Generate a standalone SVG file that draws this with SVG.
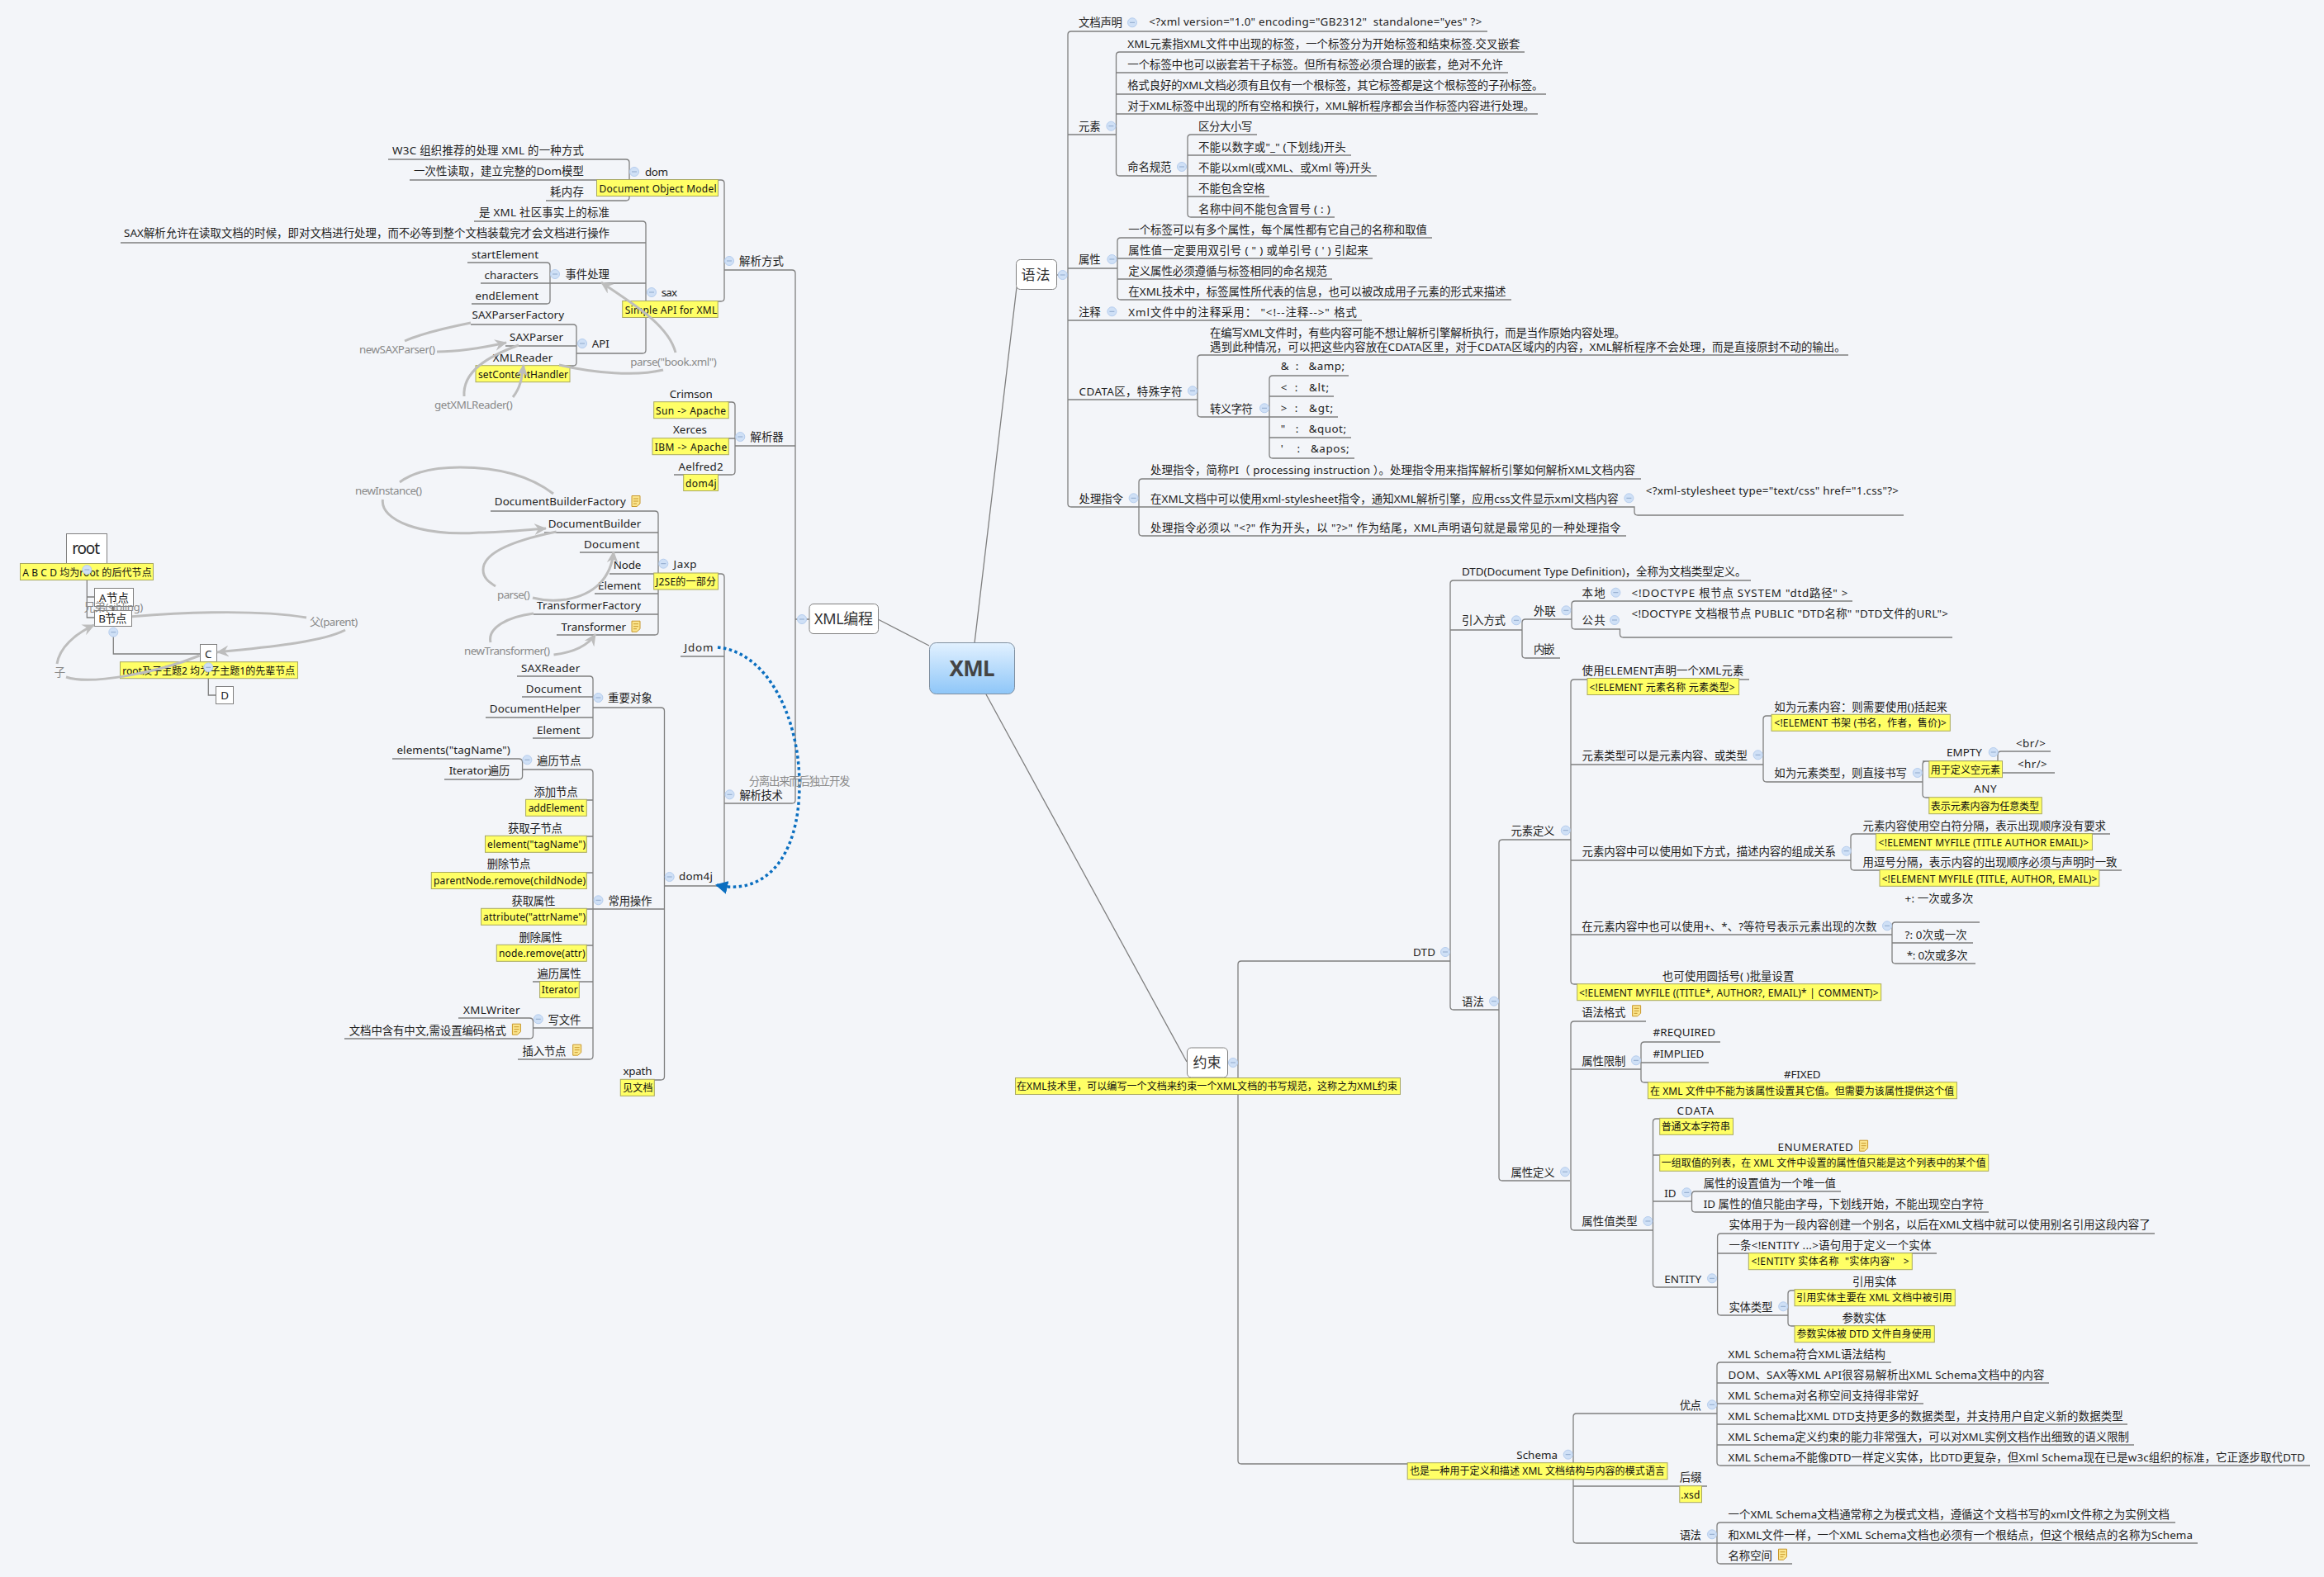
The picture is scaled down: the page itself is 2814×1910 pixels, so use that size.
<svg xmlns="http://www.w3.org/2000/svg" xmlns:xlink="http://www.w3.org/1999/xlink" width="2814" height="1910" viewBox="0 0 2814 1910">
<style>
text{font-family:"Noto Sans","Noto Sans CJK SC",sans-serif;font-size:13.4px;fill:#222;white-space:pre}
rect.n + text{font-size:12px;fill:#111}
.l{fill:#8a8a8a}
.b{font-size:17px;fill:#333}
.c path{fill:none;stroke:#7f7f7f;stroke-width:1.3}
.n{fill:#ffff66;stroke:#a8a860;stroke-width:1}
.w{fill:#fff;stroke:#808080;stroke-width:1}
.r path{fill:none;stroke:#bdbdbd;stroke-width:3}
.tg{fill:#cfe0f6;stroke:#b5cdee;stroke-width:1}
</style>
<defs>
<linearGradient id="gx" x1="0" y1="0" x2="0" y2="1"><stop offset="0" stop-color="#e2f1ff"/><stop offset="1" stop-color="#8ec6f8"/></linearGradient>
<marker id="ga" markerUnits="userSpaceOnUse" markerWidth="16" markerHeight="14" refX="14" refY="7" orient="auto"><path d="M0,0 L15,7 L0,14 L5,7 z" fill="#bdbdbd"/></marker>
<marker id="ba" markerUnits="userSpaceOnUse" markerWidth="16" markerHeight="16" refX="13" refY="8" orient="auto"><path d="M0,0 L15,8 L0,16 z" fill="#0b6fc0"/></marker>
<g id="tg"><circle class="tg" r="5.5"/><path d="M-3,0H3" stroke="#8fa9cc" stroke-width="1"/></g>
<g id="ic"><path d="M-5,-6.5H5V3L1,6.5H-5z" fill="#fbe58e" stroke="#c8982a"/><path d="M-3,-3H3M-3,0H3M-3,3H1" stroke="#c8982a" stroke-width="1"/></g>
</defs>
<rect width="2814" height="1910" fill="#f3f5f9"/>
<g id="connectors" class="c">
<path d="M1063,750L1125,782M1180,779L1231,348M1194,841L1437,1286M980,750H963"/>
<path d="M877,327H959Q963,327 963,331V969Q963,973 959,973H877M890,540H963"/>
<path d="M762,218H873Q877,218 877,222V361Q877,365 873,365H782"/>
<path d="M470,193H758Q762,193 762,197V239Q762,243 758,243H661M496,218H762"/>
<path d="M574,268H778Q782,268 782,272V424Q782,428 778,428H698M146,294H782M666,343H782"/>
<path d="M566,318H662Q666,318 666,322V364Q666,368 662,368H571M582,343H666"/>
<path d="M570,393H694Q698,393 698,397V439Q698,443 694,443H676M612,419H698"/>
<path d="M880,487H886Q890,487 890,491V571Q890,575 886,575H816M882,531H890"/>
<path d="M797,695H873Q877,695 877,699V1069Q877,1073 873,1073H804.5M824,795H877"/>
<path d="M594,619H793Q797,619 797,623V765Q797,769 793,769H674M659,645H797M702,669H797M738,695H797M720,719H797M646,744H797"/>
<path d="M718,857H800Q804.5,857 804.5,861V1304Q804.5,1308 800,1308H790M718,1101H804.5"/>
<path d="M626,819H714Q718,819 718,823V890Q718,894 714,894H645M632,844H718M588,869H718"/>
<path d="M632.6,932H714Q718,932 718,936V1279Q718,1283 714,1283H627M710,969H718M710,1013H718M710,1057H718M710,1101H718M710,1145H718M645,1189H718M645.5,1245H718"/>
<path d="M475,919H628Q632.6,919 632.6,923V940Q632.6,944 628,944H538"/>
<path d="M555,1233H641Q645.5,1233 645.5,1237V1254Q645.5,1258 641,1258H417"/>
<path d="M1801,38H1297Q1293,38 1293,42V610Q1293,614 1297,614H1379M1280,333H1293M1293,163H1351.5M1293,325H1353M1293,388H1649M1293,484H1450"/>
<path d="M1846,63H1355.5Q1351.5,63 1351.5,67V209Q1351.5,213 1355.5,213H1438M1351.5,88H1826M1351.5,114H1872M1351.5,138H1862"/>
<path d="M1522,163H1442Q1438,163 1438,167V259Q1438,263 1442,263H1616M1438,188H1636M1438,213H1667M1438,238H1537"/>
<path d="M1734,288H1357Q1353,288 1353,292V359Q1353,363 1357,363H1830M1353,313H1662M1353,338H1613"/>
<path d="M2238,430H1454Q1450,430 1450,434V501Q1450,505 1454,505H1537"/>
<path d="M1633,455H1541Q1537,455 1537,459V551Q1537,555 1541,555H1640M1537,480H1615M1537,505H1620M1537,530H1636"/>
<path d="M1987,580H1383Q1379,580 1379,584V645Q1379,649 1383,649H1969M1379,614H1979V620Q1979,624 1983,624H2305"/>
<path d="M1756,1164H1503Q1499,1164 1499,1168V1769Q1499,1773 1503,1773H1905M1487,1287H1499"/>
<path d="M2120,703H1760Q1756,703 1756,707V1219Q1756,1223 1760,1223H1815M1756,763H1843"/>
<path d="M1903,750H1847Q1843,750 1843,754V793Q1843,797 1847,797H1889"/>
<path d="M2243,728H1907Q1903,728 1903,732V758Q1903,762 1907,762H1961.5V768Q1961.5,772 1965.5,772H2364"/>
<path d="M1902,1017H1819Q1815,1017 1815,1021V1426Q1815,1430 1819,1430H1901"/>
<path d="M2118,823H1906Q1902,823 1902,827V1188Q1902,1192 1906,1192H1910M1902,926H2135M1902,1042H2241M1902,1132H2291"/>
<path d="M2145,867H2139Q2135,867 2135,871V943Q2135,947 2139,947H2328"/>
<path d="M2336,922H2332Q2328,922 2328,926V962Q2328,966 2332,966H2336M2328,922H2419"/>
<path d="M2483,910H2423Q2419,910 2419,914V932Q2419,936 2423,936H2488"/>
<path d="M2555,1010H2245Q2241,1010 2241,1014V1050Q2241,1054 2245,1054H2569"/>
<path d="M2397,1117H2295Q2291,1117 2291,1121V1163Q2291,1167 2295,1167H2392M2291,1142H2389"/>
<path d="M1993,1237H1906Q1902,1237 1902,1241V1486Q1902,1490 1906,1490H2001.5M1902,1295H1987"/>
<path d="M2083,1262H1991Q1987,1262 1987,1266V1307Q1987,1311 1991,1311H1996M1987,1287H2069"/>
<path d="M2010,1355H2005.5Q2001.5,1355 2001.5,1359V1555Q2001.5,1559 2005.5,1559H2079.6M2001.5,1399H2010M2001.5,1455H2048.5"/>
<path d="M2229,1443H2052.5Q2048.5,1443 2048.5,1447V1464Q2048.5,1468 2052.5,1468H2408"/>
<path d="M2609,1494H2083.6Q2079.6,1494 2079.6,1498V1589Q2079.6,1593 2083.6,1593H2165M2079.6,1518H2345"/>
<path d="M2173,1563H2169Q2165,1563 2165,1567V1602Q2165,1606 2169,1606H2173"/>
<path d="M2079,1712H1909Q1905,1712 1905,1716V1865Q1905,1869 1909,1869H2079M1905,1800H2067"/>
<path d="M2290,1650H2083Q2079,1650 2079,1654V1771Q2079,1775 2083,1775H2797M2079,1675H2481M2079,1700H2329M2079,1725H2576M2079,1750H2584"/>
<path d="M2634,1844H2083Q2079,1844 2079,1848V1890Q2079,1894 2083,1894H2170M2079,1869H2661"/>
<path d="M105.3,696V748H114M105.3,723H114M137.3,771V792H242M252.3,814V842H261"/>
</g>
<g id="xml"><rect x="1125.5" y="778.5" width="103" height="62" rx="8" fill="url(#gx)" stroke="#7f8fa0"/><text x="1149.5" y="819" textLength="55" style="font-size:26px;font-weight:700;fill:#444">XML</text></g>
<g id="xmlprog"><rect class="w" x="980" y="731.5" width="83.5" height="36" rx="5"/><text class="b" x="986" y="756" textLength="71" style="font-size:18px">XML编程</text><use href="#tg" x="971" y="750"/></g>
<g id="syntax"><rect class="w" x="1230.5" y="314.5" width="49" height="36" rx="5"/><text class="b" x="1236.5" y="338.5" textLength="35">语法</text><use href="#tg" x="1286.7" y="333"/></g>
<g id="constraint"><rect class="w" x="1437.5" y="1269" width="49" height="36" rx="5"/><text class="b" x="1444.5" y="1293" textLength="34">约束</text><use href="#tg" x="1493" y="1287"/><rect class="n" x="1229.5" y="1305.5" width="466" height="20"/><text x="1231" y="1320" textLength="461">在XML技术里，可以编写一个文档来约束一个XML文档的书写规范，这称之为XML约束</text></g>
<g id="n1"><text x="475" y="187" textLength="232">W3C 组织推荐的处理 XML 的一种方式</text></g>
<g id="n2"><text x="501" y="212" textLength="206">一次性读取，建立完整的Dom模型</text></g>
<g id="n3"><text x="666" y="237" textLength="41">耗内存</text></g>
<g id="n4"><use href="#tg" x="768" y="208"/><text x="781" y="213" textLength="28">dom</text><rect class="n" x="722.5" y="217.5" width="147" height="20"/><text x="725.5" y="232.5" textLength="142">Document Object Model</text></g>
<g id="n5"><text x="580" y="262" textLength="158">是 XML 社区事实上的标准</text></g>
<g id="n6"><text x="150" y="287" textLength="588">SAX解析允许在读取文档的时候，即对文档进行处理，而不必等到整个文档装载完才会文档进行操作</text></g>
<g id="n7"><text x="571" y="313" textLength="81">startElement</text></g>
<g id="n8"><text x="586.5" y="338" textLength="65.5">characters</text></g>
<g id="n9"><text x="575.5" y="363" textLength="76.5">endElement</text></g>
<g id="n10"><use href="#tg" x="672" y="332"/><text x="684.5" y="337" textLength="53.5">事件处理</text></g>
<g id="n11"><text x="571.5" y="386" textLength="111.5">SAXParserFactory</text></g>
<g id="n12"><text x="617" y="413" textLength="65">SAXParser</text></g>
<g id="n13"><text x="596.7" y="438" textLength="72.5">XMLReader</text><rect class="n" x="576" y="442.7" width="114" height="20"/><text x="579" y="458" textLength="109">setContentHandler</text></g>
<g id="n14"><use href="#tg" x="705" y="416"/><text x="716.7" y="421" textLength="21">API</text></g>
<g id="n15"><use href="#tg" x="789" y="354"/><text x="800.7" y="359" textLength="19.5">sax</text><rect class="n" x="753.7" y="364.5" width="115.5" height="20"/><text x="756.7" y="380" textLength="111.5">Simple API for XML</text></g>
<g id="n16"><use href="#tg" x="883" y="316"/><text x="895" y="321" textLength="54">解析方式</text></g>
<g id="n17"><text x="810.7" y="482" textLength="52">Crimson</text><rect class="n" x="791.7" y="486.7" width="90.5" height="20"/><text x="794" y="502" textLength="85">Sun -&gt; Apache</text></g>
<g id="n18"><text x="815" y="525" textLength="41">Xerces</text><rect class="n" x="790" y="530.7" width="92.3" height="20"/><text x="792.7" y="546" textLength="87.5">IBM -&gt; Apache</text></g>
<g id="n19"><text x="821.6" y="569.5" textLength="54">Aelfred2</text><rect class="n" x="827.7" y="574.5" width="41.8" height="20"/><text x="830" y="590" textLength="37.6">dom4j</text></g>
<g id="n20"><use href="#tg" x="896.3" y="529"/><text x="908.6" y="534" textLength="40">解析器</text></g>
<g id="n21"><text x="598.8" y="612" textLength="159">DocumentBuilderFactory</text><use href="#ic" x="770" y="607"/></g>
<g id="n22"><text x="663.7" y="638.5" textLength="112.6">DocumentBuilder</text></g>
<g id="n23"><text x="707" y="663.5" textLength="67.6">Document</text></g>
<g id="n24"><text x="742.7" y="688.5" textLength="33.6">Node</text></g>
<g id="n25"><text x="724" y="713.5" textLength="52">Element</text></g>
<g id="n26"><text x="650" y="737.5" textLength="126">TransformerFactory</text></g>
<g id="n27"><text x="679.6" y="764" textLength="78.4">Transformer</text><use href="#ic" x="770" y="758.7"/></g>
<g id="n28"><use href="#tg" x="803.3" y="682.7"/><text x="815.5" y="687.5" textLength="28">Jaxp</text><rect class="n" x="791.7" y="694" width="77.8" height="20"/><text x="794" y="709" textLength="73">J2SE的一部分</text></g>
<g id="n29"><text x="828.5" y="788.5" textLength="35">Jdom</text></g>
<g id="n30"><use href="#tg" x="883.5" y="962.3"/><text x="895.5" y="967.5" textLength="52.5">解析技术</text></g>
<g id="n31"><use href="#tg" x="810.7" y="1062"/><text x="822" y="1066" textLength="41">dom4j</text></g>
<g id="n32"><text x="631" y="814" textLength="71.3">SAXReader</text></g>
<g id="n33"><text x="636.8" y="838.5" textLength="67.2">Document</text></g>
<g id="n34"><text x="592.8" y="862.5" textLength="110">DocumentHelper</text></g>
<g id="n35"><text x="650" y="889" textLength="52.3">Element</text></g>
<g id="n36"><use href="#tg" x="724.4" y="845"/><text x="736" y="850" textLength="54">重要对象</text></g>
<g id="n37"><text x="480.4" y="912.5" textLength="137.5">elements("tagName")</text></g>
<g id="n38"><text x="543.7" y="938" textLength="73.7">Iterator遍历</text></g>
<g id="n39"><use href="#tg" x="638.4" y="920.3"/><text x="650" y="925.5" textLength="53.6">遍历节点</text></g>
<g id="n40"><text x="646.4" y="963.5" textLength="53.2">添加节点</text><rect class="n" x="636.6" y="968.3" width="73.7" height="20"/><text x="639.7" y="983" textLength="67.3">addElement</text></g>
<g id="n41"><text x="615" y="1007.5" textLength="66">获取子节点</text><rect class="n" x="587.5" y="1012.3" width="122.8" height="20"/><text x="590" y="1027" textLength="119">element("tagName")</text></g>
<g id="n42"><text x="589.7" y="1051" textLength="52.7">删除节点</text><rect class="n" x="522.3" y="1056.5" width="188" height="20"/><text x="525" y="1071" textLength="184">parentNode.remove(childNode)</text></g>
<g id="n43"><text x="619.6" y="1095.5" textLength="52.7">获取属性</text><rect class="n" x="582.6" y="1100.3" width="127.7" height="20"/><text x="585" y="1115" textLength="124">attribute("attrName")</text></g>
<g id="n44"><text x="628.6" y="1139.5" textLength="52.4">删除属性</text><rect class="n" x="601.3" y="1144.3" width="109" height="20"/><text x="604" y="1159" textLength="104.5">node.remove(attr)</text></g>
<g id="n45"><text x="650.4" y="1183.5" textLength="53.2">遍历属性</text><rect class="n" x="653.6" y="1188.5" width="47.7" height="20"/><text x="655.8" y="1203" textLength="43.8">Iterator</text></g>
<g id="n46"><text x="561" y="1228" textLength="68.5">XMLWriter</text></g>
<g id="n47"><text x="422.8" y="1252.5" textLength="190">文档中含有中文,需设置编码格式</text><use href="#ic" x="625.4" y="1246.7"/></g>
<g id="n48"><use href="#tg" x="651.8" y="1234.3"/><text x="663.4" y="1239.5" textLength="40">写文件</text></g>
<g id="n49"><text x="632.6" y="1277.5" textLength="52.7">插入节点</text><use href="#ic" x="698.7" y="1271.7"/></g>
<g id="n50"><use href="#tg" x="724.5" y="1090.3"/><text x="736.6" y="1095.5" textLength="52.7">常用操作</text></g>
<g id="n51"><text x="754.5" y="1302" textLength="35">xpath</text><rect class="n" x="751.3" y="1307.3" width="41" height="20"/><text x="754" y="1322" textLength="36.6">见文档</text></g>
<g id="root"><rect class="w" x="80.5" y="646.5" width="49" height="36"/><text x="87.3" y="671" textLength="33.7" style="font-size:19px">root</text><rect class="n" x="24.5" y="682.5" width="161" height="20"/><text x="27.3" y="697.5" textLength="156.4">A B C D 均为root 的后代节点</text><use href="#tg" x="105.3" y="690"/></g>
<g id="nodeA"><rect class="w" x="114.5" y="712.5" width="47" height="22"/><text x="120" y="728.5" textLength="36">A节点</text></g>
<g id="nodeB"><rect class="w" x="114.5" y="739.5" width="45" height="19"/><text x="119.3" y="753.5" textLength="34">B节点</text><use href="#tg" x="137.3" y="765.7"/></g>
<g id="nodeC"><rect class="w" x="242.5" y="780.5" width="20" height="21"/><text x="248" y="796.5" textLength="8.7">C</text><rect class="n" x="145.5" y="801.7" width="215" height="20"/><text x="148.3" y="817" textLength="209">root及子主题2 均为子主题1的先辈节点</text><use href="#tg" x="252.3" y="808.3"/></g>
<g id="nodeD"><rect class="w" x="261.5" y="831.5" width="21" height="21"/><text x="267.3" y="847" textLength="8.7">D</text></g>
<g id="n60"><text x="1306" y="32" textLength="53">文档声明</text><use href="#tg" x="1371" y="27.3"/></g>
<g id="n61"><text x="1391.3" y="31" textLength="403">&lt;?xml version="1.0" encoding="GB2312"  standalone="yes" ?&gt;</text></g>
<g id="n62"><text x="1306" y="158" textLength="26.7">元素</text><use href="#tg" x="1345.4" y="152.7"/></g>
<g id="n63"><text x="1365.3" y="57.5" textLength="475">XML元素指XML文件中出现的标签，一个标签分为开始标签和结束标签.交叉嵌套</text></g>
<g id="n64"><text x="1365.3" y="82.5" textLength="454.7">一个标签中也可以嵌套若干子标签。但所有标签必须合理的嵌套，绝对不允许</text></g>
<g id="n65"><text x="1365.3" y="107.5" textLength="503">格式良好的XML文档必须有且仅有一个根标签，其它标签都是这个根标签的子孙标签。</text></g>
<g id="n66"><text x="1365.3" y="132.5" textLength="492.7">对于XML标签中出现的所有空格和换行，XML解析程序都会当作标签内容进行处理。</text></g>
<g id="n67"><text x="1365.3" y="207" textLength="53">命名规范</text><use href="#tg" x="1431" y="202"/></g>
<g id="n68"><text x="1451" y="157.5" textLength="65.3">区分大小写</text></g>
<g id="n69"><text x="1451" y="182.5" textLength="178.6">不能以数字或"_" (下划线)开头</text></g>
<g id="n70"><text x="1451" y="207.5" textLength="209.7">不能以xml(或XML、或Xml 等)开头</text></g>
<g id="n71"><text x="1451" y="232.5" textLength="80.6">不能包含空格</text></g>
<g id="n72"><text x="1451" y="257.5" textLength="159.7">名称中间不能包含冒号 ( : )</text></g>
<g id="n73"><text x="1306" y="319" textLength="26.7">属性</text><use href="#tg" x="1346.4" y="314"/></g>
<g id="n74"><text x="1366.3" y="282.5" textLength="361.7">一个标签可以有多个属性，每个属性都有它自己的名称和取值</text></g>
<g id="n75"><text x="1366.3" y="307.5" textLength="290.3">属性值一定要用双引号 ( " ) 或单引号 ( ' ) 引起来</text></g>
<g id="n76"><text x="1366.3" y="332.5" textLength="240.7">定义属性必须遵循与标签相同的命名规范</text></g>
<g id="n77"><text x="1366.3" y="357.5" textLength="457.2">在XML技术中，标签属性所代表的信息，也可以被改成用子元素的形式来描述</text></g>
<g id="n78"><text x="1306" y="382.5" textLength="26.7">注释</text><use href="#tg" x="1346.4" y="377.3"/></g>
<g id="n79"><text x="1366.3" y="382.5" textLength="276.6">Xml文件中的注释采用： "&lt;!--注释--&gt;" 格式</text></g>
<g id="n80"><text x="1306.6" y="478.5" textLength="125">CDATA区，特殊字符</text><use href="#tg" x="1444" y="473.3"/></g>
<g id="n81"><text x="1465" y="407.5" textLength="503">在编写XML文件时，有些内容可能不想让解析引擎解析执行，而是当作原始内容处理。</text><text x="1465" y="425" textLength="769.7">遇到此种情况，可以把这些内容放在CDATA区里，对于CDATA区域内的内容，XML解析程序不会处理，而是直接原封不动的输出。</text></g>
<g id="n82"><text x="1465" y="499.5" textLength="52">转义字符</text><use href="#tg" x="1531" y="494.3"/></g>
<g id="n83"><text x="1550.8" y="448" textLength="77.2">&amp;  :   &amp;amp;</text></g>
<g id="n84"><text x="1550.8" y="474" textLength="58.2">&lt;  :   &amp;lt;</text></g>
<g id="n85"><text x="1550.8" y="499" textLength="63.2">&gt;  :   &amp;gt;</text></g>
<g id="n86"><text x="1550.8" y="523.5" textLength="79.2">"   :   &amp;quot;</text></g>
<g id="n87"><text x="1550.8" y="548" textLength="82.7">'    :   &amp;apos;</text></g>
<g id="n88"><text x="1306.6" y="608.5" textLength="53.4">处理指令</text><use href="#tg" x="1372.6" y="603.3"/></g>
<g id="n89"><text x="1393" y="574" textLength="587">处理指令，简称PI（ processing instruction ）。处理指令用来指挥解析引擎如何解析XML文档内容</text></g>
<g id="n90"><text x="1393" y="608.5" textLength="566.7">在XML文档中可以使用xml-stylesheet指令，通知XML解析引擎，应用css文件显示xml文档内容</text><use href="#tg" x="1972.4" y="603.3"/></g>
<g id="n91"><text x="1992.7" y="598.5" textLength="306.3">&lt;?xml-stylesheet type="text/css" href="1.css"?&gt;</text></g>
<g id="n92"><text x="1393" y="643.5" textLength="569.5">处理指令必须以 "&lt;?" 作为开头，以 "?&gt;" 作为结尾，XML声明语句就是最常见的一种处理指令</text></g>
<g id="dtd"><text x="1711" y="1158" textLength="27">DTD</text><use href="#tg" x="1750" y="1153"/></g>
<g id="n100"><text x="1770" y="697" textLength="344.5">DTD(Document Type Definition)，全称为文档类型定义。</text></g>
<g id="n101"><text x="1770" y="756" textLength="53">引入方式</text><use href="#tg" x="1836" y="751.3"/></g>
<g id="n102"><text x="1857" y="744.5" textLength="26.7">外联</text><use href="#tg" x="1896.4" y="739.3"/></g>
<g id="n103"><text x="1915.6" y="723" textLength="28">本地</text><use href="#tg" x="1956.4" y="717.7"/></g>
<g id="n104"><text x="1975.5" y="722.5" textLength="262">&lt;!DOCTYPE 根节点 SYSTEM "dtd路径" &gt;</text></g>
<g id="n105"><text x="1915.6" y="756" textLength="28">公共</text><use href="#tg" x="1955" y="751"/></g>
<g id="n106"><text x="1975.5" y="747.5" textLength="383.3">&lt;!DOCTYPE 文档根节点 PUBLIC "DTD名称" "DTD文件的URL"&gt;</text></g>
<g id="n107"><text x="1857" y="791" textLength="25.4">内嵌</text></g>
<g id="n108"><text x="1829.5" y="1011" textLength="53">元素定义</text><use href="#tg" x="1895.8" y="1005.7"/></g>
<g id="n109"><text x="1915.6" y="816.5" textLength="195.8">使用ELEMENT声明一个XML元素</text><rect class="n" x="1922" y="821.5" width="183.6" height="20"/><text x="1924.5" y="836.5" textLength="176">&lt;!ELEMENT 元素名称 元素类型&gt;</text></g>
<g id="n110"><text x="1915.6" y="919.5" textLength="200.2">元素类型可以是元素内容、或类型</text><use href="#tg" x="2128.6" y="914.3"/></g>
<g id="n111"><text x="2148.3" y="860.5" textLength="209.7">如为元素内容：则需要使用()括起来</text><rect class="n" x="2145" y="865.3" width="216.3" height="20"/><text x="2148.3" y="880" textLength="208.6">&lt;!ELEMENT 书架 (书名，作者，售价)&gt;</text></g>
<g id="n112"><text x="2148.3" y="941" textLength="160.7">如为元素类型，则直接书写</text><use href="#tg" x="2321.8" y="936"/></g>
<g id="n113"><text x="2356.9" y="916" textLength="43">EMPTY</text><use href="#tg" x="2413.7" y="911"/><rect class="n" x="2335.8" y="921.7" width="88.7" height="20"/><text x="2337.8" y="936.5" textLength="84.2">用于定义空元素</text></g>
<g id="n114"><text x="2441" y="904.5" textLength="35.8">&lt;br/&gt;</text></g>
<g id="n115"><text x="2443" y="929.5" textLength="35.7">&lt;hr/&gt;</text></g>
<g id="n116"><text x="2390" y="960" textLength="27.5">ANY</text><rect class="n" x="2335.8" y="965.7" width="136.5" height="20"/><text x="2337.8" y="980.5" textLength="131.2">表示元素内容为任意类型</text></g>
<g id="n117"><text x="1915.6" y="1036" textLength="307.4">元素内容中可以使用如下方式，描述内容的组成关系</text><use href="#tg" x="2235.7" y="1030.7"/></g>
<g id="n118"><text x="2255.5" y="1004.5" textLength="294.5">元素内容使用空白符分隔，表示出现顺序没有要求</text><rect class="n" x="2271.4" y="1009.7" width="262" height="20"/><text x="2274.6" y="1024.5" textLength="254.4">&lt;!ELEMENT MYFILE (TITLE AUTHOR EMAIL)&gt;</text></g>
<g id="n119"><text x="2255.5" y="1048.5" textLength="308">用逗号分隔，表示内容的出现顺序必须与声明时一致</text><rect class="n" x="2276" y="1053.3" width="265.8" height="20"/><text x="2278.4" y="1068.5" textLength="261">&lt;!ELEMENT MYFILE (TITLE, AUTHOR, EMAIL)&gt;</text></g>
<g id="n120"><text x="2306.6" y="1093" textLength="82.7">+: 一次或多次</text></g>
<g id="n121"><text x="1915.3" y="1126.5" textLength="357">在元素内容中也可以使用+、*、?等符号表示元素出现的次数</text><use href="#tg" x="2285" y="1121.3"/></g>
<g id="n122"><text x="2306.6" y="1136.5" textLength="75">?: 0次或一次</text></g>
<g id="n123"><text x="2308.7" y="1161.5" textLength="74">*: 0次或多次</text></g>
<g id="n124"><text x="2012.8" y="1186.5" textLength="159.6">也可使用圆括号( )批量设置</text><rect class="n" x="1909.7" y="1191.7" width="368" height="20"/><text x="1912" y="1206.5" textLength="362.5">&lt;!ELEMENT MYFILE ((TITLE*, AUTHOR?, EMAIL)* | COMMENT)&gt;</text></g>
<g id="n125"><text x="1770" y="1218" textLength="27">语法</text><use href="#tg" x="1809" y="1212.7"/></g>
<g id="n126"><text x="1915.3" y="1230.5" textLength="53">语法格式</text><use href="#ic" x="1981.6" y="1224.3"/></g>
<g id="n127"><text x="1915.3" y="1289.5" textLength="53">属性限制</text><use href="#tg" x="1981" y="1284.3"/></g>
<g id="n128"><text x="2001.5" y="1254.5" textLength="75.5">#REQUIRED</text></g>
<g id="n129"><text x="2001.5" y="1280.5" textLength="61.8">#IMPLIED</text></g>
<g id="n130"><text x="2160" y="1305.5" textLength="44.6">#FIXED</text><rect class="n" x="1995.4" y="1310.7" width="374" height="20"/><text x="1998" y="1325.5" textLength="368.3">在 XML 文件中不能为该属性设置其它值。但需要为该属性提供这个值</text></g>
<g id="n131"><text x="1829.6" y="1424.5" textLength="53">属性定义</text><use href="#tg" x="1895" y="1419.3"/></g>
<g id="n132"><text x="1915.3" y="1484" textLength="67.4">属性值类型</text><use href="#tg" x="1995.4" y="1479"/></g>
<g id="n133"><text x="2030.6" y="1350" textLength="44.4">CDATA</text><rect class="n" x="2009.7" y="1354.3" width="88.8" height="20"/><text x="2011.7" y="1369" textLength="83.3">普通文本字符串</text></g>
<g id="n134"><text x="2152.6" y="1393.5" textLength="91.3">ENUMERATED</text><use href="#ic" x="2256.6" y="1387.7"/><rect class="n" x="2009.7" y="1398.3" width="398" height="20"/><text x="2011.7" y="1413" textLength="393">一组取值的列表，在 XML 文件中设置的属性值只能是这个列表中的某个值</text></g>
<g id="n135"><text x="2015.3" y="1449.5" textLength="14.3">ID</text><use href="#tg" x="2042.3" y="1444.3"/></g>
<g id="n136"><text x="2062.8" y="1437.5" textLength="160.2">属性的设置值为一个唯一值</text></g>
<g id="n137"><text x="2062.8" y="1462.5" textLength="339.2">ID 属性的值只能由字母，下划线开始，不能出现空白字符</text></g>
<g id="n138"><text x="2015.3" y="1553.5" textLength="44.9">ENTITY</text><use href="#tg" x="2073" y="1548.3"/></g>
<g id="n139"><text x="2093.4" y="1487.5" textLength="510.2">实体用于为一段内容创建一个别名，以后在XML文档中就可以使用别名引用这段内容了</text></g>
<g id="n140"><text x="2093.4" y="1512.5" textLength="245">一条&lt;!ENTITY ...&gt;语句用于定义一个实体</text><rect class="n" x="2117.3" y="1517.7" width="198" height="20"/><text x="2120.4" y="1532" textLength="191.3">&lt;!ENTITY 实体名称  "实体内容"   &gt;</text></g>
<g id="n141"><text x="2093.4" y="1587.5" textLength="53">实体类型</text><use href="#tg" x="2159.2" y="1582.3"/></g>
<g id="n142"><text x="2242.9" y="1556.5" textLength="53.5">引用实体</text><rect class="n" x="2173" y="1561.7" width="194.3" height="20"/><text x="2175" y="1576" textLength="188.8">引用实体主要在 XML 文档中被引用</text></g>
<g id="n143"><text x="2230.6" y="1601" textLength="53.1">参数实体</text><rect class="n" x="2173" y="1605.7" width="169.3" height="20"/><text x="2175.5" y="1620" textLength="163.3">参数实体被 DTD 文件自身使用</text></g>
<g id="n150"><text x="1836.3" y="1767" textLength="49.7">Schema</text><use href="#tg" x="1898.7" y="1761.7"/><rect class="n" x="1704.2" y="1771.7" width="314.8" height="20"/><text x="1707" y="1786" textLength="309">也是一种用于定义和描述 XML 文档结构与内容的模式语言</text></g>
<g id="n151"><text x="2033.8" y="1706.5" textLength="26">优点</text><use href="#tg" x="2073" y="1701.3"/></g>
<g id="n152"><text x="2092.5" y="1644.5" textLength="190.5">XML Schema符合XML语法结构</text></g>
<g id="n153"><text x="2092.5" y="1669.5" textLength="383">DOM、SAX等XML API很容易解析出XML Schema文档中的内容</text></g>
<g id="n154"><text x="2092.5" y="1694.5" textLength="230.8">XML Schema对名称空间支持得非常好</text></g>
<g id="n155"><text x="2092.5" y="1719.5" textLength="478.1">XML Schema比XML DTD支持更多的数据类型，并支持用户自定义新的数据类型</text></g>
<g id="n156"><text x="2092.5" y="1744.5" textLength="485.5">XML Schema定义约束的能力非常强大，可以对XML实例文档作出细致的语义限制</text></g>
<g id="n157"><text x="2092.5" y="1769.5" textLength="698.5">XML Schema不能像DTD一样定义实体，比DTD更复杂，但Xml Schema现在已是w3c组织的标准，它正逐步取代DTD</text></g>
<g id="n158"><text x="2033.8" y="1794" textLength="26.7">后缀</text><rect class="n" x="2033.8" y="1799.7" width="26.7" height="20"/><text x="2035.3" y="1814.5" textLength="23">.xsd</text></g>
<g id="n159"><text x="2033.8" y="1863.5" textLength="26">语法</text><use href="#tg" x="2073" y="1858.3"/></g>
<g id="n160"><text x="2092.5" y="1838.5" textLength="534.5">一个XML Schema文档通常称之为模式文档，遵循这个文档书写的xml文件称之为实例文档</text></g>
<g id="n161"><text x="2092.5" y="1863.5" textLength="562.5">和XML文件一样，一个XML Schema文档也必须有一个根结点，但这个根结点的名称为Schema</text></g>
<g id="n162"><text x="2092.5" y="1888.5" textLength="53.5">名称空间</text><use href="#ic" x="2158.5" y="1882.7"/></g>
<g id="relations" class="r">
<path d="M570,391C535,398 510,404 490,413"/>
<path d="M529,426C560,426 590,420 613,415" marker-end="url(#ga)"/>
<path d="M628,418C590,432 560,450 562,480"/>
<path d="M621,481C630,470 632,458 634,442" marker-end="url(#ga)"/>
<path d="M677,442C720,452 770,456 803,448"/>
<path d="M818,427C810,395 770,370 728,342" marker-end="url(#ga)"/>
<path d="M670,598C640,575 600,566 557,566C525,566 500,572 484,584"/>
<path d="M463.5,605C460,630 510,650 580,645C610,645 635,642 661,640" marker-end="url(#ga)"/>
<path d="M673.6,644C620,655 585,670 585,690C585,700 592,705 600,710"/>
<path d="M645,724C660,728 672,728 686,726C720,720 740,700 743,668" marker-end="url(#ga)"/>
<path d="M646,743C615,747 590,760 594,778"/>
<path d="M670.5,793C695,790 712,782 721,768" marker-end="url(#ga)"/>
<path d="M160,746.7C220,742 310,738 371,748"/>
<path d="M418,763C390,778 320,784 263,790" marker-end="url(#ga)"/>
<path d="M241.7,794C190,815 110,830 80,820"/>
<path d="M69,804C72,785 90,768 114,757" marker-end="url(#ga)"/>
<path d="M136.7,740V735" style="stroke:#555;stroke-width:2"/>
<path d="M869,784C930,790 968,870 968,950C968,1040 925,1085 868,1072" marker-end="url(#ba)" style="stroke:#0b6fc0;stroke-width:3.5;stroke-dasharray:3.5 3.5"/>
</g>
<g id="labels">
<text class="l" x="435" y="428" textLength="92">newSAXParser()</text>
<text class="l" x="526" y="495" textLength="94.7">getXMLReader()</text>
<text class="l" x="763.3" y="443" textLength="104.4">parse("book.xml")</text>
<text class="l" x="430" y="599" textLength="81">newInstance()</text>
<text class="l" x="602" y="725" textLength="39.7">parse()</text>
<text class="l" x="562" y="792.5" textLength="104">newTransformer()</text>
<text class="l" x="906.7" y="951" textLength="122.8">分离出来而后独立开发</text>
<text class="l" x="101.7" y="740" textLength="71.6">兄弟(sibling)</text>
<text class="l" x="375" y="757.5" textLength="58.3">父(parent)</text>
<text class="l" x="65.7" y="819" textLength="11.6">子</text>
</g>
</svg>
